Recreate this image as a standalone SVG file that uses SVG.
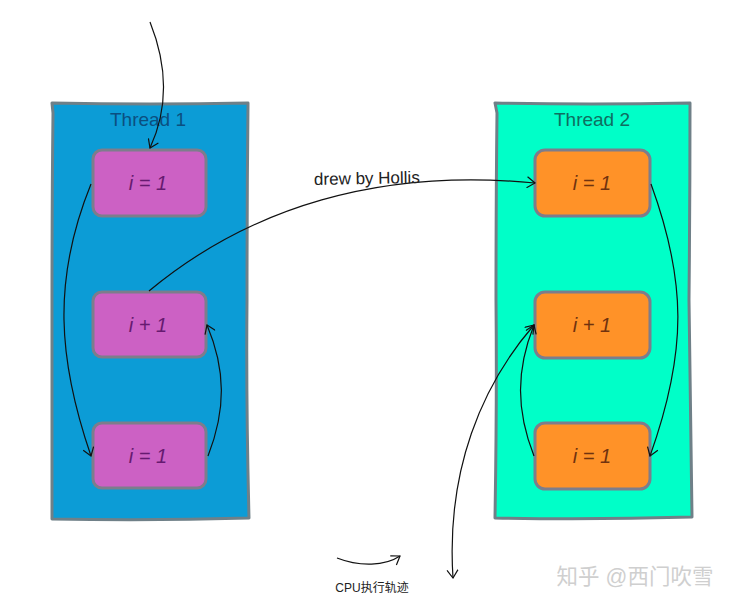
<svg xmlns="http://www.w3.org/2000/svg" width="732" height="608" viewBox="0 0 732 608">
<style>
text{font-family:"Liberation Sans","Noto Sans CJK SC",sans-serif;text-anchor:middle}
.panel{stroke:#6f8088;stroke-width:3;stroke-linejoin:round}
.box{stroke:#7d7d8c;stroke-width:3}
.p{fill:#cc61c4}.o{fill:#ff9228}
.lp{fill:#661a70;font-size:20px;font-style:italic}
.lo{fill:#70320f;font-size:20px;font-style:italic}
.c{fill:none;stroke:#111;stroke-width:1.2;marker-end:url(#a)}
</style>
<defs>
<marker id="a" viewBox="0 0 10 12" refX="9" refY="6" markerWidth="10" markerHeight="12" markerUnits="userSpaceOnUse" orient="auto-start-reverse"><path d="M1 .5 9 6 1 11.5" fill="none" stroke="#111" stroke-width="1.2"/></marker>
</defs>
<rect width="732" height="608" fill="#fff"/>
<g id="thread1">
<path class="panel" fill="#0c9cd6" d="M52 103Q150 105 248 103Q247 200 247 300Q246 400 249 518Q150 521 52 519Q52 400 52 300Q52 200 53 113Z"/>
<text x="148" y="126" font-size="19" fill="#0b4f80">Thread 1</text>
</g>
<g id="thread2">
<path class="panel" fill="#00ffc8" d="M495 103Q590 105 690 103Q690 200 689 300Q690 400 692 517Q590 520 495 518Q497 400 496 300Q496 200 497 113Z"/>
<text x="592" y="126" font-size="19" fill="#0f6e60">Thread 2</text>
</g>
<g id="t1-a"><rect class="box p" x="93" y="150" width="113" height="66" rx="9"/><text class="lp" x="148" y="190">i = 1</text></g>
<g id="t1-b"><rect class="box p" x="93" y="292" width="113" height="65" rx="9"/><text class="lp" x="148" y="332">i + 1</text></g>
<g id="t1-c"><rect class="box p" x="93" y="423" width="113" height="65" rx="9"/><text class="lp" x="148" y="463">i = 1</text></g>
<g id="t2-a"><rect class="box o" x="535" y="150" width="115" height="66" rx="10"/><text class="lo" x="592" y="190">i = 1</text></g>
<g id="t2-b"><rect class="box o" x="535" y="292" width="115" height="66" rx="10"/><text class="lo" x="592" y="332">i + 1</text></g>
<g id="t2-c"><rect class="box o" x="535" y="423" width="115" height="66" rx="10"/><text class="lo" x="592" y="463">i = 1</text></g>
<g id="connectors">
<path class="c" d="M150 22C166 62 170 105 150 148"/>
<path class="c" d="M91 184C52 280 58 360 91 456"/>
<path class="c" d="M208 456C226 410 226 370 207 325"/>
<path class="c" d="M149 291C250 207 380 168 535 183"/>
<path class="c" d="M651 184C686 280 688 350 650 456"/>
<path class="c" d="M534 456C516 410 516 370 534 325"/>
<path class="c" d="M534 325C482 385 446 470 453 578" style="marker-start:url(#a)"/>
<path class="c" d="M337 558C360 567 385 566 400 556"/>
</g>
<text x="367" y="184" font-size="17" fill="#222" transform="rotate(-1 367 184)">drew by Hollis</text>
<text x="372" y="592" font-size="12" fill="#222">CPU执行轨迹</text>
<text x="635" y="584" font-size="21.5" fill="#cfcfcf">知乎 @西门吹雪</text>
</svg>
